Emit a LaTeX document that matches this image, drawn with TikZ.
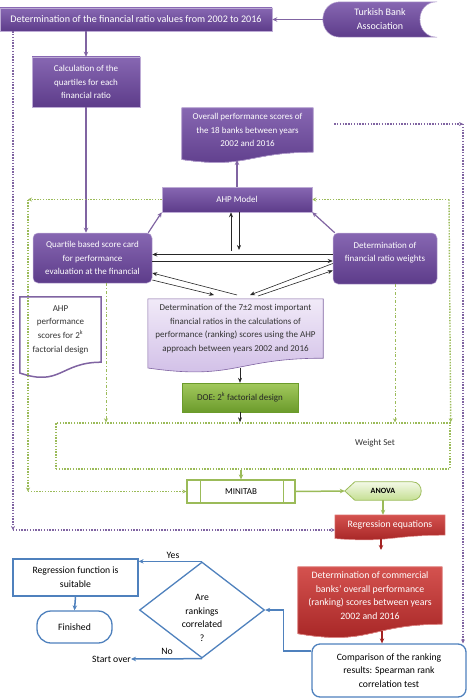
\documentclass[tikz,border=0pt]{standalone}
\usepackage{fontspec}
\setmainfont{Carlito}
\usepackage{tikz}
\usetikzlibrary{arrows.meta,positioning,shapes,calc,backgrounds}
\usepackage{xcolor}
\definecolor{purtop}{HTML}{8767B2}
\definecolor{purbot}{HTML}{5D3C8A}
\definecolor{purline}{HTML}{8064A2}
\definecolor{lavtop}{HTML}{F1EAF8}
\definecolor{lavbot}{HTML}{CFBCE6}
\definecolor{wsgreen}{HTML}{9BBB59}
\definecolor{doetop}{HTML}{A3C95E}
\definecolor{doebot}{HTML}{6B9B2B}
\definecolor{anovatop}{HTML}{F3F9E6}
\definecolor{anovabot}{HTML}{C5DF93}
\definecolor{redtop}{HTML}{D4524F}
\definecolor{redbot}{HTML}{A32222}
\definecolor{bankblue}{HTML}{4F81BD}
\definecolor{darktxt}{HTML}{333333}

% wavy-bottom document outline around a node
\newcommand{\docshape}[2]{%
  \path[#2] let \p1=(#1.north west), \p2=(#1.south east) in
    (\p1) -- (\x2,\y1) -- (\p2)
    .. controls ({(\x1+\x2)/2},\y2) and ({(\x1+\x2)/2},{\y1-1.38*(\y1-\y2)}) .. (\x1,{\y1-1.165*(\y1-\y2)}) -- cycle;}

\begin{document}
\begin{tikzpicture}[x=1pt, y=-1pt,
  box/.style={align=center, inner sep=0pt},
  fa/.style={font=\fontsize{9}{13.6}\selectfont},
  fb/.style={font=\fontsize{9.7}{13.8}\selectfont},
  purfill/.style={top color=purtop, bottom color=purbot, draw=purtop!55!white, line width=0.5pt},
  redfill/.style={top color=redtop, bottom color=redbot, draw=redtop!60!white, line width=0.5pt},
  purbox/.style={box, fa, text=white, purfill},
  bluebox/.style={box, fb, draw=bankblue, line width=1.3pt, fill=white},
  purarrow/.style={draw=purline, line width=1.2pt, -{Stealth[length=5pt,width=4.5pt]}},
  blkarrow/.style={draw=black!85, line width=0.6pt, -{Stealth[length=5pt,width=4pt]}},
  purdot/.style={draw=purline, line width=1.4pt, dash pattern=on 1.4pt off 1.4pt, -{Stealth[length=4pt,width=4pt]}},
  grndot/.style={draw=wsgreen, line width=1.4pt, dash pattern=on 1.4pt off 1.4pt, -{Stealth[length=4pt,width=4pt]}},
  grndash/.style={draw=wsgreen, line width=0.8pt, dash dot, -{Stealth[length=4pt,width=4pt]}},
  grnarrow/.style={draw=wsgreen, line width=1.5pt, -{Stealth[length=5pt,width=4.5pt]}},
  redarrow/.style={draw=redbot, line width=1.2pt, -{Stealth[length=5pt,width=4.5pt]}},
  bluearrow/.style={draw=bankblue, line width=1.5pt, -{Stealth[length=5pt,width=4.5pt]}}]
\useasboundingbox (0,0) rectangle (474,698);

% purple part
\node[purbox, font=\fontsize{10.1}{13.5}\selectfont, minimum width=272pt, minimum height=23pt] (ratio) at (136,19.5) {Determination of the financial ratio values from 2002 to 2016};
\node[box, fb, font=\fontsize{10}{14}\selectfont, text=white, minimum width=114pt, minimum height=35pt] (tba) at (380,19.5) {Turkish Bank\\Association};
\node[purbox, minimum width=108pt, minimum height=50pt] (calc) at (86,82) {Calculation of the\\quartiles for each\\financial ratio};
\node[box, fa, text=white, minimum width=131pt, minimum height=44pt] (ovr) at (247.5,130) {Overall performance scores of\\the 18 banks between years\\2002 and 2016};
\node[purbox, minimum width=150pt, minimum height=25pt] (ahp) at (237,199.5) {AHP Model};
\node[purbox, rounded corners=5pt, minimum width=119pt, minimum height=50pt] (qsc) at (92.5,258) {Quartile based score card\\for performance\\evaluation at the financial};
\node[purbox, rounded corners=5pt, minimum width=104pt, minimum height=51pt] (wgt) at (385,258.5) {Determination of\\financial ratio weights\\\mbox{}};
\node[box, fa, text=darktxt, minimum width=175pt, minimum height=59pt] (imp) at (235.5,328.5) {Determination of the 7±2 most important\\financial ratios in the calculations of\\performance (ranking) scores using the AHP\\approach between years 2002 and 2016};
\node[box, fa, text=darktxt, minimum width=81pt, minimum height=65pt] (aps) at (60.5,329.5) {AHP\\performance\\scores for 2\textsuperscript{k}\\factorial design};

% green part
\node[box, fa, text=black!85, top color=doetop, bottom color=doebot, draw=doebot, minimum width=116pt, minimum height=29pt] (doe) at (240,397.5) {DOE: 2\textsuperscript{k} factorial design};
\node[draw=wsgreen, line width=1.4pt, dash pattern=on 1.4pt off 1.4pt, minimum width=394pt, minimum height=46pt] (wset) at (253,446) {};
\node[box, fa, text=darktxt] (wlbl) at (375,443) {Weight Set};
\node[box, fa, draw=wsgreen, line width=1.2pt, fill=white, minimum width=108pt, minimum height=23pt] (mtab) at (241,491.5) {MINITAB};
\draw[draw=wsgreen, line width=1.2pt] ([xshift=14pt]mtab.north west) -- ([xshift=14pt]mtab.south west)
  ([xshift=-12pt]mtab.north east) -- ([xshift=-12pt]mtab.south east);
\node[box, font=\fontsize{8}{9}\selectfont\bfseries, minimum width=76pt, minimum height=18pt] (anova) at (383,491) {ANOVA};

% red part
\node[box, font=\fontsize{9.8}{13.7}\selectfont, text=white, minimum width=110pt, minimum height=20pt] (regr) at (390,525) {Regression equations};
\node[box, font=\fontsize{9.8}{13.7}\selectfont, text=white, minimum width=144pt, minimum height=57pt] (comm) at (370,595.5) {Determination of commercial\\banks’ overall performance\\(ranking) scores between years\\2002 and 2016};

% blue part
\node[bluebox, rounded corners=8pt, minimum width=154pt, minimum height=53pt] (cmp) at (389,670.5) {Comparison of the ranking\\results: Spearman rank\\correlation test};
\node[bluebox, diamond, minimum width=125pt, minimum height=96pt] (dia) at (202,610) {};
\node[box, fb] (diatxt) at (202,618) {Are\\rankings\\correlated\\?};
\node[bluebox, minimum width=125pt, minimum height=37pt] (rfs) at (75.5,577.5) {Regression function is\\suitable};
\node[bluebox, rounded corners=14pt, minimum width=75pt, minimum height=32pt] (fin) at (74.5,627) {Finished};
\node[box, fb, anchor=east] (sto) at (131,659) {Start over};
\node[box, fb] (yes) at (173,555) {Yes};
\node[box, fb] (no) at (167,651) {No};

% shapes behind the texts
\begin{scope}[on background layer]
\path[purfill] let \p1=(tba.south west), \p2=(tba.north east) in
  ({\x1+17.5pt},\y2) -- (\x2,\y2) .. controls ({\x2-23pt},\y2) and ({\x2-23pt},\y1) .. (\x2,\y1)
  -- ({\x1+17.5pt},\y1) .. controls ({\x1-5.8pt},\y1) and ({\x1-5.8pt},\y2) .. ({\x1+17.5pt},\y2) -- cycle;
\docshape{ovr}{purfill, xshift=21pt, yshift=10pt}
\docshape{ovr}{purfill, xshift=10.5pt, yshift=5pt}
\docshape{ovr}{purfill}
\docshape{imp}{top color=lavtop, bottom color=lavbot, draw=purline, line width=0.6pt}
\docshape{aps}{fill=white, draw=purline, line width=1.5pt}
\path[top color=anovatop, bottom color=anovabot, draw=wsgreen, line width=0.8pt] let \p1=(anova.south west), \p2=(anova.north east) in
  (\x1,{(\y1+\y2)/2}) -- ({\x1+10pt},\y2) -- ({\x2-9pt},\y2) .. controls ({\x2+3pt},\y2) and ({\x2+3pt},\y1) .. ({\x2-9pt},\y1)
  -- ({\x1+10pt},\y1) -- cycle;
\docshape{regr}{redfill}
\docshape{comm}{redfill, xshift=22pt, yshift=16pt}
\docshape{comm}{redfill, xshift=11pt, yshift=8pt}
\docshape{comm}{redfill}
\end{scope}

\coordinate (ovrb) at (238,160);
\coordinate (impb) at (240,368);
\coordinate (regb) at (381,539);
\coordinate (commt) at (381,550);
\coordinate (commb) at (382,631);
\coordinate (lc) at (13,530);
\coordinate (rc) at (463,124);
\coordinate (gl1) at (28,199.5);
\coordinate (gl2) at (28,491.5);
\coordinate (grc) at (449,199.5);
\coordinate (u1) at (231,251);
\coordinate (d1) at (239,250);
\coordinate (il1) at (237,295);
\coordinate (il2) at (214,295);
\coordinate (ir1) at (250,295);
\coordinate (ir2) at (258,296);

% connectors
\draw[purarrow] (tba.west) -- (ratio.east);
\draw[purarrow] (calc.north |- ratio.south) -- (calc.north);
\draw[purarrow] (calc.south) -- (calc.south |- qsc.north);
\draw[purarrow] (ahp.north) -- (ahp.north |- ovrb);
\draw[purarrow] ([xshift=-4pt]qsc.north east) -- (ahp.south west);
\draw[purarrow] ([xshift=2pt]wgt.north west) -- (ahp.south east);
\draw[blkarrow] (u1) -- (u1 |- ahp.south);
\draw[blkarrow] (d1 |- ahp.south) -- (d1);
\draw[blkarrow] ([yshift=4pt]wgt.west) -- ([yshift=4pt]wgt.west -| qsc.east);
\draw[blkarrow] ([yshift=-3pt]qsc.east) -- ([yshift=-3pt]qsc.east -| wgt.west);
\draw[blkarrow] (il1) -- ([yshift=-15pt]qsc.east);
\draw[blkarrow] ([yshift=-22pt]qsc.east) -- (il2);
\draw[blkarrow] ([yshift=-5pt]wgt.west) -- (ir1);
\draw[blkarrow] (ir2) -- ([yshift=-12pt]wgt.west);
\draw[blkarrow] (impb) -- (doe.north);
\draw[blkarrow] (doe.south) -- (doe.south |- wset.north);
\draw[grndash] ([xshift=13.5pt]qsc.south) -- ([xshift=13.5pt]qsc.south |- wset.north);
\draw[grndash] ([xshift=10pt]wgt.south) -- ([xshift=10pt]wgt.south |- wset.north);
\draw[grnarrow] (mtab.north |- wset.south) -- (mtab.north);
\draw[grnarrow] (mtab.east) -- (anova.west);
\draw[grnarrow] (anova.south) -- (anova.south |- regr.north);
\draw[redarrow] (regb) -- (commt);
\draw[redarrow] (commb) -- (commb |- cmp.north);
\draw[purdot] (ratio.south -| lc) -- (lc);
\draw[purdot] (lc) -- (lc -| regr.west);
\draw[purdot] ([xshift=21pt,yshift=6pt]ovr.east) -- (rc);
\draw[purdot] (rc) -- (rc |- cmp.north);
\draw[grndot] (ahp.west) -- (gl1);
\draw[grndot] (gl1) -- (gl2);
\draw[grndot] (gl2) -- (mtab.west);
\draw[grndot] (grc) -- (ahp.east);
\draw[grndot] (grc) -- (wset.north east);
\draw[bluearrow] ([yshift=19.5pt]cmp.west) -- ++(-28pt,0) |- (dia.east);
\draw[bluearrow] (dia.north) -- (dia.north -| rfs.east);
\draw[bluearrow] (dia.south) -- (sto.east);
\draw[bluearrow] (rfs.south) -- (fin.north);
\end{tikzpicture}
\end{document}
